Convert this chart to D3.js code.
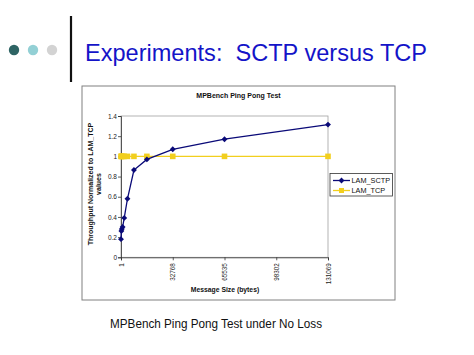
<!DOCTYPE html>
<html><head><meta charset="utf-8">
<script src="https://cdn.jsdelivr.net/npm/d3@7"></script>
<style>html,body{margin:0;padding:0;background:#fff;}svg{display:block;}</style>
</head><body>
<svg id="c" width="474" height="355"></svg>
<script>
const slideTitle = "Experiments:  SCTP versus TCP";
const chartTitle = "MPBench Ping Pong Test";
const caption = "MPBench Ping Pong Test under No Loss";
const yLabelLines = ["Throughput Normalized to LAM_TCP", "values"];
const xLabel = "Message Size (bytes)";
const seriesNames = ["LAM_SCTP", "LAM_TCP"];
const messageSizes = [1, 256, 512, 1024, 2048, 4096, 8192, 16384, 32768, 65536, 131069];
const sctpValues = [0.18, 0.26, 0.28, 0.30, 0.39, 0.58, 0.865, 0.97, 1.07, 1.17, 1.315];
const tcpValues = [1, 1, 1, 1, 1, 1, 1, 1, 1, 1, 1];
const xTicks = [1, 32768, 65535, 98302, 131069];
const yTicks = [0, 0.2, 0.4, 0.6, 0.8, 1, 1.2, 1.4];

const svg = d3.select("#c");
const F = "'Liberation Sans', Arial, sans-serif";

// slide decoration
const dots = [{x:14,c:"#2e6464"},{x:33,c:"#93d0d5"},{x:52,c:"#d3d3d3"}];
svg.selectAll("circle.dot").data(dots).join("circle").attr("class","dot")
  .attr("cx",d=>d.x).attr("cy",50).attr("r",5.2).attr("fill",d=>d.c);
svg.append("line").attr("x1",71).attr("x2",71).attr("y1",16).attr("y2",82)
  .attr("stroke","#111").attr("stroke-width",2.2);
svg.append("text").attr("x",85).attr("y",61).attr("font-family",F).attr("font-size",24.5)
  .attr("fill","#1414c8").attr("xml:space","preserve")
  .attr("textLength",342).attr("lengthAdjust","spacingAndGlyphs").text(slideTitle);

// chart frame
svg.append("rect").attr("x",82).attr("y",86).attr("width",313).attr("height",214)
  .attr("fill","#fff").attr("stroke","#808080").attr("stroke-width",1);

const x = d3.scaleLinear().domain([1,131069]).range([121,328]);
const y = d3.scaleLinear().domain([0,1.4]).range([257.3,116]);

// plot area border
svg.append("rect").attr("x",121).attr("y",116).attr("width",207).attr("height",141.3)
  .attr("fill","none").attr("stroke","#a0a0a0").attr("stroke-width",0.8);

const gx = svg.append("g").attr("transform","translate(0,257.3)")
  .call(d3.axisBottom(x).tickValues(xTicks).tickSize(3).tickFormat(d3.format("d")));
gx.selectAll("text").attr("font-family",F).attr("font-size",6.3).attr("fill","#222")
  .attr("transform","rotate(-90)").attr("text-anchor","end").attr("x",-6).attr("y",0).attr("dy","0.35em");
const gy = svg.append("g").attr("transform","translate(121,0)")
  .call(d3.axisLeft(y).tickValues(yTicks).tickSize(3).tickFormat(d=>String(+d.toFixed(1))));
gy.selectAll("text").attr("font-family",F).attr("font-size",6.5).attr("fill","#222").attr("x",-4);
[gx,gy].forEach(g=>{g.select(".domain").attr("stroke","#333").attr("stroke-width",0.8);
  g.selectAll(".tick line").attr("stroke","#333").attr("stroke-width",0.8);});

// titles
svg.append("text").attr("x",238.5).attr("y",98).attr("text-anchor","middle")
  .attr("font-family",F).attr("font-weight","bold").attr("font-size",7).attr("fill","#111").text(chartTitle);
svg.append("text").attr("x",225).attr("y",292).attr("text-anchor","middle")
  .attr("font-family",F).attr("font-weight","bold").attr("font-size",6.8).attr("fill","#111").text(xLabel);
const yl = svg.append("text").attr("transform","translate(93,184) rotate(-90)").attr("text-anchor","middle")
  .attr("font-family",F).attr("font-weight","bold").attr("font-size",7).attr("fill","#111");
yLabelLines.forEach((t,i)=>yl.append("tspan").attr("x",0).attr("dy",i?8.3:0).text(t));

// series
const sctp = messageSizes.map((s,i)=>({x:s,y:sctpValues[i]}));
const tcp = messageSizes.map((s,i)=>({x:s,y:tcpValues[i]}));
const line = d3.line().x(d=>x(d.x)).y(d=>y(d.y));
const cT = "#f2cf1e", cS = "#0a0a78";
svg.append("path").datum(tcp).attr("d",line).attr("fill","none").attr("stroke",cT).attr("stroke-width",1.3);
svg.selectAll("rect.tcp").data(tcp).join("rect").attr("class","tcp")
  .attr("x",d=>x(d.x)-2.8).attr("y",d=>y(d.y)-2.8).attr("width",5.6).attr("height",5.6).attr("fill",cT);
svg.append("path").datum(sctp).attr("d",line).attr("fill","none").attr("stroke",cS).attr("stroke-width",1.3);
const diamond = d3.symbol().type(d3.symbolDiamond2).size(22);
svg.selectAll("path.sctp").data(sctp).join("path").attr("class","sctp")
  .attr("transform",d=>`translate(${x(d.x)},${y(d.y)})`).attr("d",diamond).attr("fill",cS);

// legend
const lg = svg.append("g");
lg.append("rect").attr("x",330).attr("y",173.5).attr("width",62.5).attr("height",22.5)
  .attr("fill","#fff").attr("stroke","#333").attr("stroke-width",0.8);
const leg = [{n:seriesNames[0],c:cS,t:"d",yy:180.5},{n:seriesNames[1],c:cT,t:"s",yy:190.5}];
leg.forEach(e=>{
  lg.append("line").attr("x1",333).attr("x2",350).attr("y1",e.yy).attr("y2",e.yy).attr("stroke",e.c).attr("stroke-width",1.3);
  if(e.t==="d") lg.append("path").attr("transform",`translate(341.5,${e.yy})`).attr("d",diamond).attr("fill",e.c);
  else lg.append("rect").attr("x",339).attr("y",e.yy-2.5).attr("width",5).attr("height",5).attr("fill",e.c);
  lg.append("text").attr("x",351.5).attr("y",e.yy).attr("dy","0.35em").attr("font-family",F)
    .attr("font-size",7.3).attr("fill","#111").text(e.n);
});

// caption
svg.append("text").attr("x",110).attr("y",327.5).attr("font-family",F).attr("font-size",12.3)
  .attr("fill","#111").attr("textLength",212).attr("lengthAdjust","spacingAndGlyphs").text(caption);
</script>
</body></html>
